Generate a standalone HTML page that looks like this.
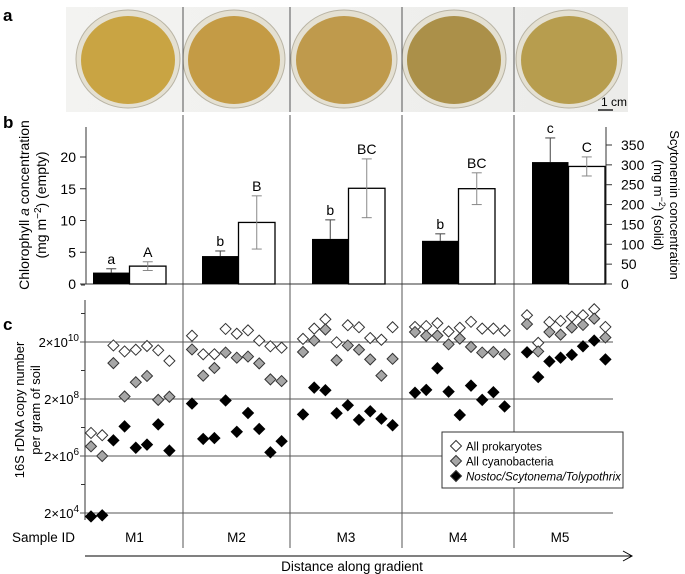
<!DOCTYPE html>
<html><head><meta charset="utf-8">
<style>
html,body{margin:0;padding:0;background:#fff;}
svg{display:block;font-family:"Liberation Sans",sans-serif;}
</style></head>
<body>
<svg id="fig" width="685" height="574" viewBox="0 0 685 574" xmlns="http://www.w3.org/2000/svg">
<defs>
<linearGradient id="photobg" x1="0" x2="1" y1="0" y2="0">
<stop offset="0" stop-color="#f3f3f1"/><stop offset="1" stop-color="#ececea"/>
</linearGradient>
</defs>
<g id="panelA">
<rect x="66" y="7" width="562" height="105" fill="url(#photobg)"/>
</g>
<g id="panelB"></g>
<g id="panelC"></g>
<text x="3" y="21" font-size="17" font-weight="bold">a</text>
<text x="3" y="128" font-size="17" font-weight="bold">b</text>
<text x="3" y="330" font-size="17" font-weight="bold">c</text>
</svg>
<script>
// ---- data ----
const samples = ["M1","M2","M3","M4","M5"];
const dishColors = ["#c9a443","#c49b45","#bf9a4c","#ab9049","#b79d4e"];
const chlValues = [1.8, 4.4, 7.1, 6.8, 19.2];
const chlErrors = [0.6, 0.8, 3.0, 1.1, 3.8];
const scyValues = [45, 155, 241, 240, 296];
const scyErrors = [11, 67, 74, 40, 24];
const chlLetters = ["a","b","b","b","c"];
const scyLetters = ["A","B","BC","BC","C"];
const chlTicks = [0,5,10,15,20];
const scyTicks = [0,50,100,150,200,250,300,350];
// log10 copy numbers per replicate
const prokLog = [
 [7.11,7.03,10.18,9.97,10.03,10.16,10.01,9.64],
 [10.52,9.87,9.87,10.76,10.59,10.71,10.35,10.15,10.10],
 [10.41,10.77,11.10,10.29,10.89,10.82,10.44,10.38,10.82],
 [10.83,10.86,10.96,10.67,10.80,11.01,10.77,10.77,10.70],
 [11.24,10.27,11.00,11.04,11.19,11.24,11.45,10.83]];
const cyanoLog = [
 [6.64,6.30,9.56,8.39,8.89,9.11,8.27,8.38],
 [10.04,9.12,9.39,9.93,9.75,9.79,9.55,8.99,8.93],
 [9.95,10.35,10.74,9.66,10.18,10.03,9.69,9.12,9.71],
 [10.65,10.52,10.53,10.22,10.42,10.13,9.93,9.95,9.87],
 [10.93,9.97,10.65,10.56,10.81,10.90,11.12,10.46]];
const nostocLog = [
 [4.18,4.22,6.85,7.34,6.59,6.70,7.41,6.49],
 [8.14,6.90,6.93,8.25,7.15,7.81,7.25,6.43,6.82],
 [7.76,8.70,8.61,7.80,8.08,7.57,7.87,7.61,7.38],
 [8.52,8.62,9.38,8.56,7.74,8.77,8.27,8.54,8.04],
 [9.94,9.07,9.62,9.75,9.85,10.15,10.35,9.69]];
const logTickExp = [4,6,8,10];

const NS="http://www.w3.org/2000/svg";
function mk(parent,tag,attrs,text){const e=document.createElementNS(NS,tag);for(const k in attrs)e.setAttribute(k,attrs[k]);if(text!==undefined)e.textContent=text;parent.appendChild(e);return e;}

const sepX=[183,290,402,514];
const segStart=[86,183,290,402,514];
const segEnd=[183,290,402,514,606];

// panel a
const A=document.getElementById('panelA');
const dishCx=[128,234,344,454,569], dishRx=[52,51,53,52,53];
samples.forEach((s,i)=>{
 const g=mk(A,'g',{});
 
 
 mk(g,'ellipse',{cx:dishCx[i],cy:59,rx:dishRx[i],ry:49,fill:'#e4e0d2',stroke:'#b9b4a4','stroke-width':1});
 mk(g,'ellipse',{cx:dishCx[i],cy:60,rx:dishRx[i]-5,ry:44,fill:dishColors[i]});
});
sepX.forEach(x=>{const l=mk(A,'line',{x1:x,x2:x,y1:7,y2:112,stroke:'#555','stroke-width':1});
});
const sb=mk(A,'line',{x1:598,x2:613,y1:110,y2:110,stroke:'#000','stroke-width':1.3});

const sbt=mk(A,'text',{x:601,y:106,'font-size':12},'1 cm');


// panel b
const B=document.getElementById('panelB');
const b0=284, chlPx=6.35, scyPx=139/350;
const yChl=v=>b0-v*chlPx, yScy=v=>b0-v*scyPx;
const barW=36.5;
sepX.forEach(x=>{const l=mk(B,'line',{x1:x,x2:x,y1:115,y2:296,stroke:'#555','stroke-width':1});
});
const la=mk(B,'line',{x1:86,x2:86,y1:127,y2:284,stroke:'#333'});

chlTicks.forEach(t=>{mk(B,'line',{x1:80,x2:86,y1:yChl(t),y2:yChl(t),stroke:'#333'});
 const tx=mk(B,'text',{x:76,y:yChl(t)+5,'font-size':14,'text-anchor':'end'},t);
 });
const ra=mk(B,'line',{x1:606,x2:606,y1:127,y2:284,stroke:'#333'});

scyTicks.forEach(t=>{mk(B,'line',{x1:606,x2:612,y1:yScy(t),y2:yScy(t),stroke:'#333'});
 const tx=mk(B,'text',{x:621,y:yScy(t)+5,'font-size':14},t);
 });
mk(B,'line',{x1:86,x2:606,y1:284,y2:284,stroke:'#333'});
const blackX=[93,202,312,422,532];
samples.forEach((s,i)=>{
 const x0=blackX[i];
 const yb=yChl(chlValues[i]), ye=yChl(chlValues[i]+chlErrors[i]);
 const eb=mk(B,'line',{x1:x0+barW/2,x2:x0+barW/2,y1:yb,y2:ye,stroke:'#444'});
 
 mk(B,'line',{x1:x0+barW/2-5,x2:x0+barW/2+5,y1:ye,y2:ye,stroke:'#444'});
 const r=mk(B,'rect',{x:x0,y:yb,width:barW,height:b0-yb,fill:'#000'});
 
 const lt=mk(B,'text',{x:x0+barW/2,y:ye-5,'font-size':14,'text-anchor':'middle'},chlLetters[i]);
 
 const x1=x0+barW;
 const yw=yScy(scyValues[i]), yu=yScy(scyValues[i]+scyErrors[i]), yd=yScy(scyValues[i]-scyErrors[i]);
 const w=mk(B,'rect',{x:x1,y:yw,width:barW,height:b0-yw,fill:'#fff',stroke:'#000','stroke-width':1.3});
 
 const ew=mk(B,'line',{x1:x1+barW/2,x2:x1+barW/2,y1:yu,y2:yd,stroke:'#888'});
 
 mk(B,'line',{x1:x1+barW/2-5,x2:x1+barW/2+5,y1:yu,y2:yu,stroke:'#888'});
 mk(B,'line',{x1:x1+barW/2-5,x2:x1+barW/2+5,y1:yd,y2:yd,stroke:'#888'});
 const lw=mk(B,'text',{x:x1+barW/2,y:yu-5,'font-size':14,'text-anchor':'middle'},scyLetters[i]);
 
});
const lt1=mk(B,'text',{transform:'translate(29,205) rotate(-90)','font-size':14,'text-anchor':'middle'});

mk(lt1,'tspan',{},'Chlorophyll ');mk(lt1,'tspan',{'font-style':'italic'},'a');mk(lt1,'tspan',{},' concentration');
const lt2=mk(B,'text',{transform:'translate(46,205) rotate(-90)','font-size':14,'text-anchor':'middle'});

mk(lt2,'tspan',{},'(mg m');mk(lt2,'tspan',{dy:-5,'font-size':10},'−2');mk(lt2,'tspan',{dy:5},') (empty)');
const rt1=mk(B,'text',{transform:'translate(670,205) rotate(90)','font-size':13,'text-anchor':'middle'},'Scytonemin concentration');

const rt2=mk(B,'text',{transform:'translate(654,205) rotate(90)','font-size':13,'text-anchor':'middle'});

mk(rt2,'tspan',{},'(mg m');mk(rt2,'tspan',{dy:-5,'font-size':9},'−2');mk(rt2,'tspan',{dy:5},') (solid)');

// panel c
const C=document.getElementById('panelC');
const yLog=L=>342-(L-Math.log10(2e10))*28.5;
sepX.forEach(x=>{const l=mk(C,'line',{x1:x,x2:x,y1:296,y2:548,stroke:'#555','stroke-width':1});
});
const ca=mk(C,'line',{x1:85,x2:85,y1:300,y2:520,stroke:'#333'});

logTickExp.forEach(e=>{
 const y=yLog(e+Math.log10(2));
 const g=mk(C,'line',{x1:80,x2:613,y1:y,y2:y,stroke:'#555'});
 
 const t=mk(C,'text',{x:79,y:y+5,'font-size':13,'text-anchor':'end'});
 
 mk(t,'tspan',{},'2×10');mk(t,'tspan',{dy:-6,'font-size':10},String(e));
 const ym=yLog(e+1+Math.log10(2));
 mk(C,'line',{x1:81,x2:85,y1:ym,y2:ym,stroke:'#333'});
});
mk(C,'line',{x1:81,x2:85,y1:yLog(12.3),y2:yLog(12.3),stroke:'#333'});
function diamond(x,y,fill,name){
 const p=mk(C,'polygon',{points:`${x},${y-5.5} ${x+5.5},${y} ${x},${y+5.5} ${x-5.5},${y}`,fill:fill,stroke:fill==='#000'?'#000':'#333','stroke-width':1});
 
}
const firstX=[91,192,303,415,527], stepX=11.2;
samples.forEach((s,i)=>{
 prokLog[i].forEach((v,j)=>diamond(firstX[i]+j*stepX,yLog(v),'#fff','prokaryote-point'));
 cyanoLog[i].forEach((v,j)=>diamond(firstX[i]+j*stepX,yLog(v),'#a6a6a6','cyanobacteria-point'));
 nostocLog[i].forEach((v,j)=>diamond(firstX[i]+j*stepX,yLog(v),'#000','nostoc-point'));
});
const lg=mk(C,'g',{});

mk(lg,'rect',{x:442,y:432,width:181,height:56,fill:'#fff',stroke:'#333'});
const legItems=[['#fff','All prokaryotes',false],['#a6a6a6','All cyanobacteria',false],['#000','Nostoc/Scytonema/Tolypothrix',true]];
legItems.forEach((it,k)=>{
 const y=446+k*15;
 const li=mk(lg,'g',{});
 
 mk(li,'polygon',{points:`${456},${y-5.5} ${461.5},${y} ${456},${y+5.5} ${450.5},${y}`,fill:it[0],stroke:'#333'});
 const t=mk(li,'text',{x:466,y:y+4.5,'font-size':11.5},it[1]);
 if(it[2])t.setAttribute('font-style','italic');
});
const yt1=mk(C,'text',{transform:'translate(24,410) rotate(-90)','font-size':13,'text-anchor':'middle'},'16S rDNA copy number');

const yt2=mk(C,'text',{transform:'translate(40,410) rotate(-90)','font-size':13,'text-anchor':'middle'},'per gram of soil');

const sid=mk(C,'text',{x:12,y:542,'font-size':13.5},'Sample ID');

samples.forEach((s,i)=>{
 const t=mk(C,'text',{x:(segStart[i]+segEnd[i])/2,y:542,'font-size':13.5,'text-anchor':'middle'},s);
 
});
const ar=mk(C,'line',{x1:85,x2:632,y1:556,y2:556,stroke:'#000','stroke-width':1});

mk(C,'polyline',{points:'623,551 632,556 623,561',fill:'none',stroke:'#000','stroke-width':1});
const dx=mk(C,'text',{x:352,y:571,'font-size':13.5,'text-anchor':'middle'},'Distance along gradient');

</script>
</body></html>
